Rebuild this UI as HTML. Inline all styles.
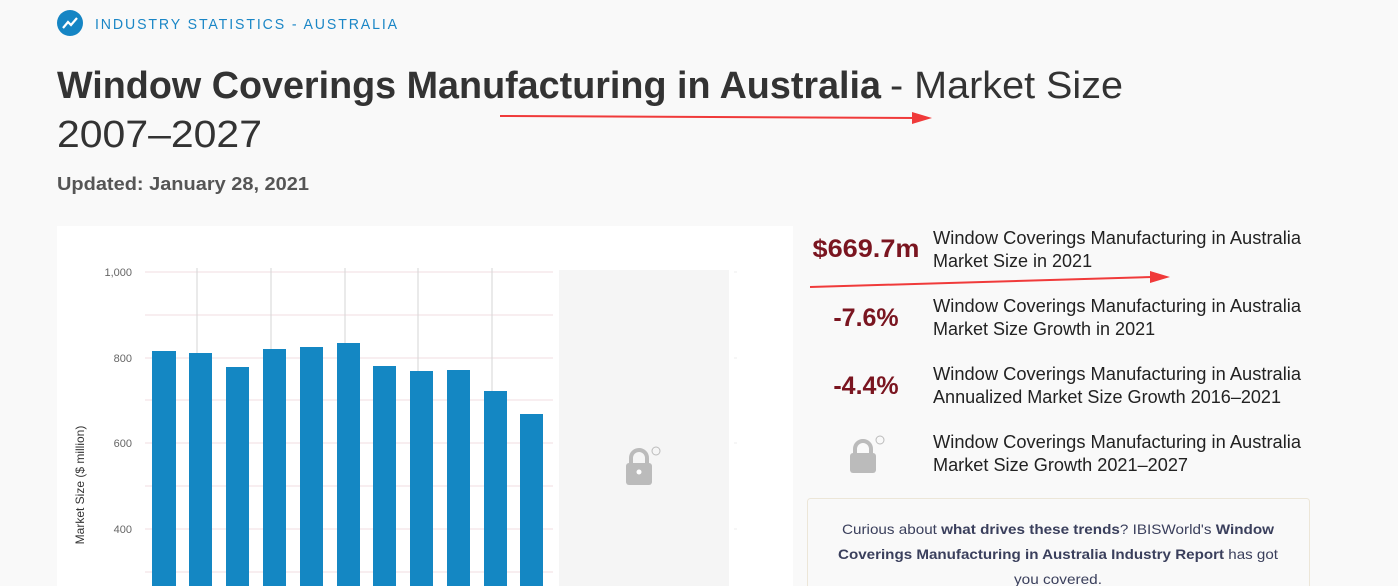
<!DOCTYPE html>
<html><head><meta charset="utf-8"><style>
html,body{margin:0;padding:0;background:#f9f9f9;width:1398px;height:586px;overflow:hidden}
svg{display:block;font-family:"Liberation Sans",sans-serif}
</style></head><body>
<svg width="1398" height="586" viewBox="0 0 1398 586">
<rect width="1398" height="586" fill="#f9f9f9"/>
<circle cx="70" cy="23" r="13" fill="#1585c4"/>
<polyline points="63,28 68,22 71,25 77,18" fill="none" stroke="#fff" stroke-width="2.2"/>
<text x="95" y="29" font-size="15" fill="#1a86c6" letter-spacing="2" textLength="304" lengthAdjust="spacingAndGlyphs">INDUSTRY STATISTICS - AUSTRALIA</text>
<text x="57" y="98" font-size="38" font-weight="bold" fill="#333" textLength="824" lengthAdjust="spacingAndGlyphs">Window Coverings Manufacturing in Australia</text>
<text x="890" y="98" font-size="38" fill="#333" textLength="233" lengthAdjust="spacingAndGlyphs">- Market Size</text>
<text x="57" y="147" font-size="38" fill="#333" textLength="205" lengthAdjust="spacingAndGlyphs">2007–2027</text>
<text x="57" y="190" font-size="18" font-weight="bold" fill="#555" textLength="252" lengthAdjust="spacingAndGlyphs">Updated: January 28, 2021</text>
<line x1="500" y1="116" x2="915" y2="118" stroke="#f03a3a" stroke-width="2"/>
<polygon points="912,112 932,118 912,124" fill="#f03a3a"/>
<rect x="57" y="226" width="736" height="360" fill="#fff"/>
<rect x="559" y="270" width="170" height="316" fill="#f5f5f5"/>
<g stroke="#f0dde2" stroke-width="1">
<line x1="145" y1="272" x2="553" y2="272"/><line x1="145" y1="315" x2="553" y2="315"/>
<line x1="145" y1="358" x2="553" y2="358"/><line x1="145" y1="400" x2="553" y2="400"/>
<line x1="145" y1="443" x2="553" y2="443"/><line x1="145" y1="486" x2="553" y2="486"/>
<line x1="145" y1="529" x2="553" y2="529"/><line x1="145" y1="572" x2="553" y2="572"/>
</g>
<g stroke="#d6d6d6"><line x1="197" y1="268" x2="197" y2="586"/><line x1="271" y1="268" x2="271" y2="586"/><line x1="345" y1="268" x2="345" y2="586"/><line x1="418" y1="268" x2="418" y2="586"/><line x1="492" y1="268" x2="492" y2="586"/></g>
<g stroke="#eee"><line x1="734" y1="272" x2="737" y2="272"/><line x1="734" y1="358" x2="737" y2="358"/><line x1="734" y1="443" x2="737" y2="443"/><line x1="734" y1="529" x2="737" y2="529"/></g>
<g fill="#1487c3">
<rect x="152" y="351" width="24" height="235"/><rect x="189" y="353" width="23" height="233"/>
<rect x="226" y="367" width="23" height="219"/><rect x="263" y="349" width="23" height="237"/>
<rect x="300" y="347" width="23" height="239"/><rect x="337" y="343" width="23" height="243"/>
<rect x="373" y="366" width="23" height="220"/><rect x="410" y="371" width="23" height="215"/>
<rect x="447" y="370" width="23" height="216"/><rect x="484" y="391" width="23" height="195"/>
<rect x="520" y="414" width="23" height="172"/>
</g>
<g font-size="11" fill="#666" text-anchor="end">
<text x="132" y="276">1,000</text><text x="132" y="362">800</text><text x="132" y="447">600</text><text x="132" y="533">400</text>
</g>
<text transform="translate(84,485) rotate(-90)" font-size="12" fill="#333" text-anchor="middle">Market Size ($ million)</text>
<rect x="626" y="463" width="26" height="22" rx="3" fill="#bbb"/>
<path d="M631,464 v-6 a8,8 0 0 1 16,0 v6" fill="none" stroke="#bbb" stroke-width="4"/>
<circle cx="639" cy="472" r="2.5" fill="#fff"/>
<circle cx="656" cy="451" r="4" fill="none" stroke="#bbb"/>
<g font-size="25" font-weight="bold" fill="#7a1520" text-anchor="middle">
<text x="866" y="257" textLength="107" lengthAdjust="spacingAndGlyphs">$669.7m</text><text x="866" y="326">-7.6%</text><text x="866" y="394">-4.4%</text>
</g>
<rect x="850" y="453" width="26" height="20" rx="3" fill="#bbb"/>
<path d="M855,454 v-5 a8,8 0 0 1 16,0 v5" fill="none" stroke="#bbb" stroke-width="4"/>
<circle cx="880" cy="440" r="4" fill="none" stroke="#bbb"/>
<g font-size="18" fill="#222">
<text x="933" y="244" textLength="368" lengthAdjust="spacingAndGlyphs">Window Coverings Manufacturing in Australia</text><text x="933" y="267">Market Size in 2021</text>
<text x="933" y="312" textLength="368" lengthAdjust="spacingAndGlyphs">Window Coverings Manufacturing in Australia</text><text x="933" y="335">Market Size Growth in 2021</text>
<text x="933" y="380" textLength="368" lengthAdjust="spacingAndGlyphs">Window Coverings Manufacturing in Australia</text><text x="933" y="403" textLength="348" lengthAdjust="spacingAndGlyphs">Annualized Market Size Growth 2016–2021</text>
<text x="933" y="448" textLength="368" lengthAdjust="spacingAndGlyphs">Window Coverings Manufacturing in Australia</text><text x="933" y="471" textLength="255" lengthAdjust="spacingAndGlyphs">Market Size Growth 2021–2027</text>
</g>
<line x1="810" y1="287" x2="1152" y2="277" stroke="#f03a3a" stroke-width="2"/>
<polygon points="1150,271 1170,277 1150,283" fill="#f03a3a"/>
<rect x="807.5" y="498.5" width="502" height="100" rx="3" fill="#f9f9f9" stroke="#ece6d8"/>
<g font-size="14" fill="#3a3f5c" text-anchor="middle">
<text x="1058" y="534" textLength="432" lengthAdjust="spacingAndGlyphs">Curious about <tspan font-weight="bold">what drives these trends</tspan>? IBISWorld's <tspan font-weight="bold">Window</tspan></text>
<text x="1058" y="559" textLength="440" lengthAdjust="spacingAndGlyphs"><tspan font-weight="bold">Coverings Manufacturing in Australia Industry Report</tspan> has got</text>
<text x="1058" y="584" textLength="88" lengthAdjust="spacingAndGlyphs">you covered.</text>
</g>
</svg>
</body></html>
